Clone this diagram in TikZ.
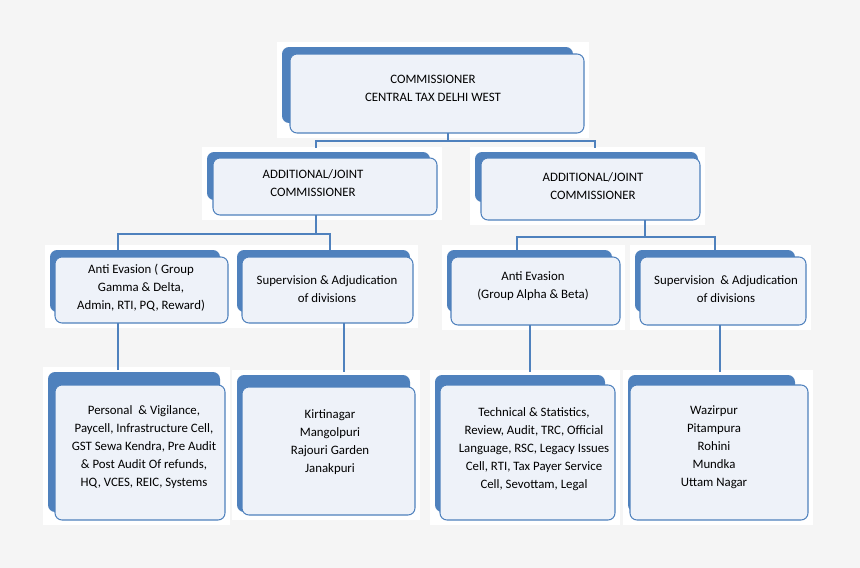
\documentclass[tikz,border=0pt]{standalone}
\usepackage{fontspec}
\setmainfont{Carlito}
\definecolor{boxblue}{HTML}{4F81BD}
\definecolor{boxfill}{HTML}{EEF2F9}
\definecolor{pagebg}{HTML}{F5F5F5}
\tikzset{
    back/.style={fill=boxblue, rounded corners=4pt},
    front/.style={draw=boxblue, fill=boxfill, rounded corners=4pt, line width=0.6pt},
    label/.style={align=center, font=\fontsize{7.3}{10.2}\selectfont, text=black},
    link/.style={draw=boxblue, line width=0.6pt}
}
% #1 name, #2-#5 back box, #6-#9 front box, #10 text
\newcommand{\tile}[9]{%
    \fill[white] (#2-5,#3-5) rectangle (#8+5,#9+5);
    \fill[back] (#2,#3) rectangle (#4,#5+12);
    \draw[front] (#6,#7) rectangle (#8,#9);
    \node[label] (#1) at ({(#6+#8)/2},{(#7+#9)/2}) {};
    \coordinate (#1-top) at ({(#6+#8)/2},#3);
    \coordinate (#1-bot) at ({(#6+#8)/2},#9);
}
\begin{document}
\begin{tikzpicture}[x=0.02cm, y=-0.02cm]
\fill[pagebg] (0,0) rectangle (860,568);

% Commissioner
\tile{comm}{282}{47}{573}{111}{290}{54}{584}{133}
\node[label] at (433,88) {COMMISSIONER\\CENTRAL TAX DELHI WEST};

% Additional / Joint
\tile{addl}{207}{152}{430}{188}{213}{158}{437}{215}
\node[label] at (313,183) {ADDITIONAL/JOINT\\COMMISSIONER};
\tile{addr}{475}{152}{698}{190}{481}{158}{700}{220}
\node[label] at (593,186) {ADDITIONAL/JOINT\\COMMISSIONER};

% Wings
\tile{antil}{50}{250}{220}{300}{55}{257}{228}{323}
\node[label] at (141,288) {Anti Evasion ( Group\\Gamma \& Delta,\\Admin, RTI, PQ, Reward)};
\tile{supl}{237}{250}{410}{300}{242}{257}{413}{323}
\node[label] at (327,289) {Supervision \& Adjudication\\of divisions};
\tile{antir}{447}{250}{612}{300}{451}{257}{620}{325}
\node[label] at (533,286) {Anti Evasion\\(Group Alpha \& Beta)};
\tile{supr}{635}{250}{795}{300}{640}{257}{806}{325}
\node[label] at (726,289) {Supervision\ \ \& Adjudication\\of divisions};

% Sections
\tile{secl}{48}{372}{220}{500}{55}{385}{225}{520}
\node[label] at (144,447) {Personal\ \ \& Vigilance,\\Paycell, Infrastructure Cell,\\GST Sewa Kendra, Pre Audit\\\& Post Audit Of refunds,\\HQ, VCES, REIC, Systems};
\tile{divl}{237}{375}{410}{500}{242}{387}{415}{515}
\node[label] at (330,442) {Kirtinagar\\Mangolpuri\\Rajouri Garden\\Janakpuri};
\tile{secr}{435}{375}{605}{500}{440}{385}{615}{520}
\node[label] at (534,449) {Technical \& Statistics,\\Review, Audit, TRC, Official\\Language, RSC, Legacy Issues\\Cell, RTI, Tax Payer Service\\Cell, Sevottam, Legal};
\tile{divr}{628}{375}{795}{500}{630}{385}{808}{520}
\node[label] at (714,447) {Wazirpur\\Pitampura\\Rohini\\Mundka\\Uttam Nagar};

% Connections
\draw[link] (448,133) |- (316,141) -- (316,148);
\draw[link] (448,141) -| (595,148);
\draw[link] (316,215) |- (118,234) -- (118,250);
\draw[link] (316,234) -| (330,250);
\draw[link] (645,220) |- (517,237) -- (517,250);
\draw[link] (645,237) -| (715,250);
\draw[link] (118,323) -- (118,370);
\draw[link] (344,323) -- (344,372);
\draw[link] (530,325) -- (530,372);
\draw[link] (720,325) -- (720,372);
\end{tikzpicture}
\end{document}
